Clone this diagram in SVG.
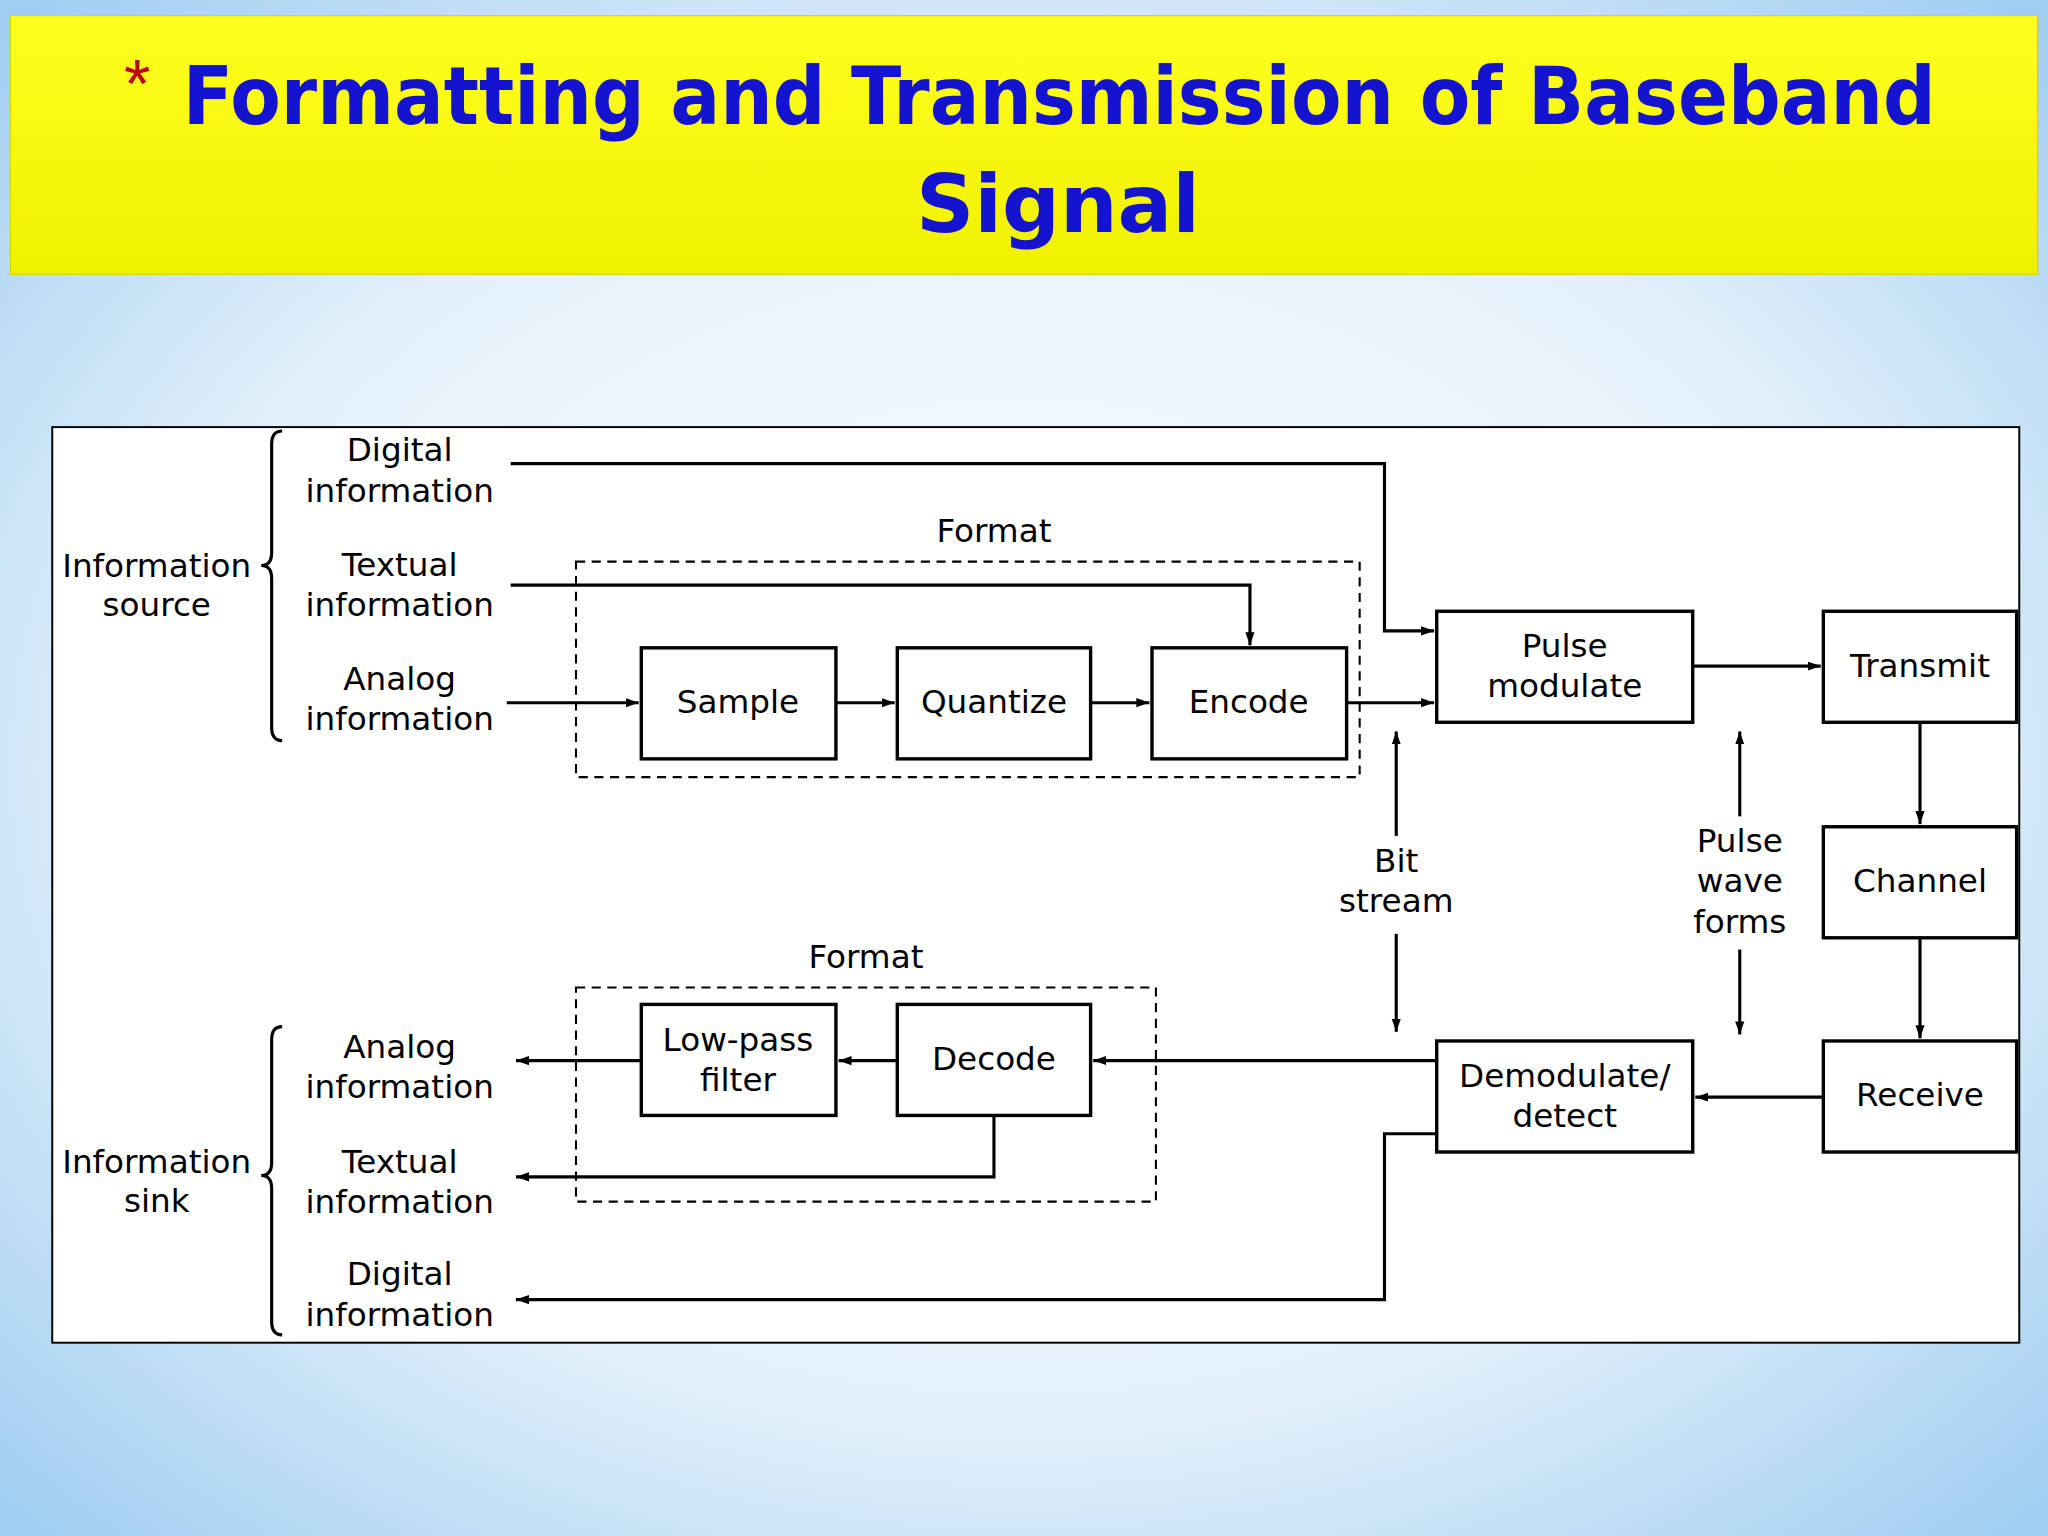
<svg xmlns="http://www.w3.org/2000/svg" width="2048" height="1536" viewBox="0 0 2048 1536">
<defs>
<radialGradient id="bg" cx="50%" cy="50%" r="70%">
<stop offset="0" stop-color="#ffffff"/><stop offset="0.6" stop-color="#e4f1fb"/><stop offset="1" stop-color="#9fcdf0"/>
</radialGradient>
<linearGradient id="ban" x1="0" y1="0" x2="0" y2="1">
<stop offset="0" stop-color="#ffff20"/><stop offset="1" stop-color="#f0f000"/>
</linearGradient>
<marker id="a" viewBox="0 0 10 10" refX="10" refY="5" markerWidth="10" markerHeight="10" markerUnits="userSpaceOnUse" orient="auto"><path d="M0,1.5 L10,5 L0,8.5 Z" fill="#000"/></marker>
<style>
.b{fill:#fff;stroke:#000;stroke-width:2.6}
.d{fill:none;stroke:#000;stroke-width:1.6;stroke-dasharray:7 5}
.t{font-family:"DejaVu Sans",sans-serif;font-size:25px;fill:#000;text-anchor:middle}
.c{fill:none;stroke:#000;stroke-width:2.4;marker-end:url(#a)}
.l{fill:none;stroke:#000;stroke-width:2.4}
</style>
</defs>
<rect width="2048" height="1536" fill="url(#bg)"/>
<g transform="scale(1.30612)">
<g id="title">
<rect x="8" y="12" width="1552" height="198" fill="url(#ban)" stroke="#d8d800"/>
<text x="105" y="82" font-family="Liberation Sans,sans-serif" font-size="52" fill="#c00000" text-anchor="middle">*</text>
<text x="140" y="95" textLength="1342" lengthAdjust="spacingAndGlyphs" font-family="DejaVu Sans,sans-serif" font-weight="bold" font-size="62" fill="#1414d0">Formatting and Transmission of Baseband</text>
<text x="810" y="178" font-family="DejaVu Sans,sans-serif" font-weight="bold" font-size="62" fill="#1414d0" text-anchor="middle">Signal</text>
</g>
<rect x="40" y="327" width="1506" height="701" fill="#fff" stroke="#000" stroke-width="1.5"/>
<g id="labels">
<text class="t" x="120" y="442">Information</text><text class="t" x="120" y="472">source</text>
<text class="t" x="120" y="898">Information</text><text class="t" x="120" y="928">sink</text>
<text class="t" x="306" y="353">Digital</text><text class="t" x="306" y="384">information</text>
<text class="t" x="306" y="441">Textual</text><text class="t" x="306" y="472">information</text>
<text class="t" x="306" y="528">Analog</text><text class="t" x="306" y="559">information</text>
<text class="t" x="306" y="810">Analog</text><text class="t" x="306" y="841">information</text>
<text class="t" x="306" y="898">Textual</text><text class="t" x="306" y="929">information</text>
<text class="t" x="306" y="984">Digital</text><text class="t" x="306" y="1015">information</text>
<text class="t" x="761" y="415">Format</text><text class="t" x="663" y="741">Format</text>
<text class="t" x="1069" y="668">Bit</text><text class="t" x="1069" y="698">stream</text>
<text class="t" x="1332" y="652">Pulse</text><text class="t" x="1332" y="683">wave</text><text class="t" x="1332" y="714">forms</text>
<path d="M216,330 Q208,330 208,340 L208,423 Q208,433 200,433 Q208,433 208,443 L208,557 Q208,567 216,567" class="l" stroke-width="1.6"/>
<path d="M216,786 Q208,786 208,796 L208,890 Q208,900 200,900 Q208,900 208,910 L208,1012 Q208,1022 216,1022" class="l" stroke-width="1.6"/>
</g>
<rect class="d" x="441" y="430" width="600" height="165"/>
<rect class="d" x="441" y="756" width="444" height="164"/>
<g id="sample"><rect class="b" x="491" y="496" width="149" height="85"/><text class="t" x="565" y="546">Sample</text></g>
<g id="quantize"><rect class="b" x="687" y="496" width="148" height="85"/><text class="t" x="761" y="546">Quantize</text></g>
<g id="encode"><rect class="b" x="882" y="496" width="149" height="85"/><text class="t" x="956" y="546">Encode</text></g>
<g id="pulse"><rect class="b" x="1100" y="468" width="196" height="85"/><text class="t" x="1198" y="503">Pulse</text><text class="t" x="1198" y="534">modulate</text></g>
<g id="transmit"><rect class="b" x="1396" y="468" width="148" height="85"/><text class="t" x="1470" y="518">Transmit</text></g>
<g id="channel"><rect class="b" x="1396" y="633" width="148" height="85"/><text class="t" x="1470" y="683">Channel</text></g>
<g id="receive"><rect class="b" x="1396" y="797" width="148" height="85"/><text class="t" x="1470" y="847">Receive</text></g>
<g id="demod"><rect class="b" x="1100" y="797" width="196" height="85"/><text class="t" x="1198" y="832">Demodulate/</text><text class="t" x="1198" y="863">detect</text></g>
<g id="decode"><rect class="b" x="687" y="769" width="148" height="85"/><text class="t" x="761" y="819">Decode</text></g>
<g id="lpf"><rect class="b" x="491" y="769" width="149" height="85"/><text class="t" x="565" y="805">Low-pass</text><text class="t" x="565" y="835">filter</text></g>
<g id="connectors">
<path class="c" d="M391,355 H1060 V483 H1098"/>
<path class="c" d="M391,448 H957 V494"/>
<path class="c" d="M388,538 H489"/>
<path class="c" d="M640,538 H685"/>
<path class="c" d="M835,538 H880"/>
<path class="c" d="M1031,538 H1098"/>
<path class="c" d="M1296,510 H1394"/>
<path class="c" d="M1470,553 V631"/>
<path class="c" d="M1470,718 V795"/>
<path class="c" d="M1396,840 H1298"/>
<path class="c" d="M1100,812 H837"/>
<path class="c" d="M687,812 H642"/>
<path class="c" d="M491,812 H395"/>
<path class="c" d="M761,854 V901 H395"/>
<path class="c" d="M1100,868 H1060 V995 H395"/>
<path class="c" d="M1069,640 V560"/>
<path class="c" d="M1069,715 V790"/>
<path class="c" d="M1332,625 V560"/>
<path class="c" d="M1332,727 V792"/>
</g>
</g>
</svg>
